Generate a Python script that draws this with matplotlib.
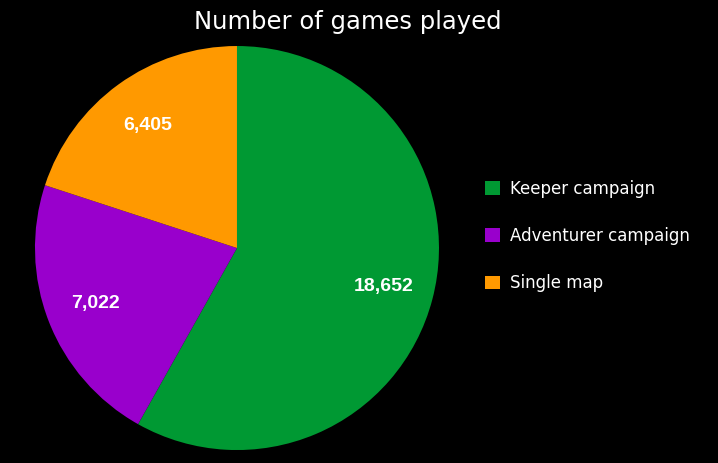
import matplotlib
matplotlib.use("Agg")
import matplotlib.pyplot as plt

categories = ["Keeper campaign", "Adventurer campaign", "Single map"]
values = [18652, 7022, 6405]
colors = ["#009933", "#9900cc", "#ff9900"]

fig = plt.figure(figsize=(7.18, 4.63), dpi=100, facecolor="black")
ax = fig.add_axes([0.0487, 0.028, 0.5627, 0.8726])
ax.set_facecolor("black")
wedges, texts, autotexts = ax.pie(
    values, colors=colors, startangle=90, counterclock=False,
    autopct=lambda p: f"{p*sum(values)/100:,.0f}", pctdistance=0.75,
    wedgeprops=dict(linewidth=0),
    textprops=dict(color="white", fontsize=14, fontweight="bold", family="Liberation Sans"))
ax.set_aspect("equal")
ax.set_xlim(-1, 1)
ax.set_ylim(-1, 1)
fig.text(0.484, 0.952, "Number of games played", color="white", fontsize=17.5,
         ha="center", va="center")
leg = fig.legend(wedges, categories, loc="center left", bbox_to_anchor=(0.655, 0.49),
                 frameon=False, labelcolor="white", fontsize=12,
                 handlelength=0.9, handleheight=0.9, labelspacing=1.75, handletextpad=0.6)
fig.savefig("out.png", dpi=100, facecolor="black")
